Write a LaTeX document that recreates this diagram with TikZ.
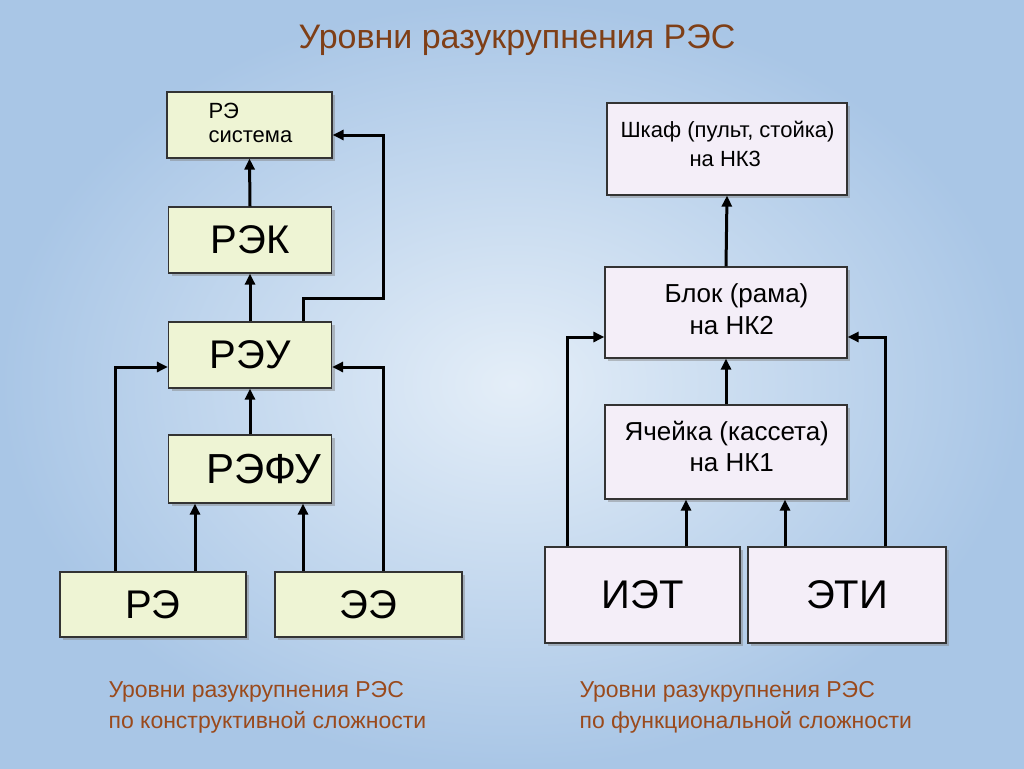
\documentclass[tikz,border=0pt]{standalone}
\usepackage{fontspec}
\setmainfont{Liberation Sans}
\usetikzlibrary{arrows.meta,shadows}
\definecolor{bgin}{HTML}{E4EEF8}
\definecolor{bgout}{HTML}{A9C6E6}
\definecolor{gbox}{HTML}{EEF4D4}
\definecolor{pbox}{HTML}{F4EEF8}
\definecolor{ttl}{HTML}{7F3F17}
\definecolor{cap}{HTML}{9A4A1C}
\tikzset{
  gb/.style={draw=black!80,line width=1.2pt,fill=gbox,drop shadow={opacity=0.45,shadow xshift=3pt,shadow yshift=-3pt}},
  pb/.style={draw=black!80,line width=1.2pt,fill=pbox,drop shadow={opacity=0.45,shadow xshift=3pt,shadow yshift=-3pt}},
  ar/.style={line width=3pt,-{Triangle[length=11pt,width=10pt]}},
  big/.style={font=\fontsize{40}{42}\selectfont},
  sm/.style={font=\fontsize{22}{24}\selectfont,align=left},
  md/.style={font=\fontsize{26}{28}\selectfont,align=left},
}
\begin{document}
\begin{tikzpicture}[x=1pt,y=-1pt]
\shade[inner color=bgin,outer color=bgout] (0,0) rectangle (1024,768);
\useasboundingbox (0,0) rectangle (1024,768);
\node[text=ttl,font=\fontsize{34}{36}\selectfont] (title) at (517,40) {Уровни разукрупнения РЭС};
% left
\node[gb,minimum width=165pt,minimum height=66pt] (sys) at (249.5,125) {};
\node[sm,anchor=north west] (syst) at (205,100) {РЭ\\система};
\node[gb,minimum width=163pt,minimum height=66pt,big] (rek) at (250,240) {РЭК};
\node[gb,minimum width=163pt,minimum height=66pt,big] (reu) at (250,355) {РЭУ};
\node[gb,minimum width=163pt,minimum height=68pt] (refu) at (250,469) {};
\node[font=\fontsize{42}{44}\selectfont] (refut) at (264,469) {РЭФУ};
\node[gb,minimum width=186pt,minimum height=65pt,big] (re) at (153,604.5) {РЭ};
\node[gb,minimum width=187pt,minimum height=65pt,big] (ee) at (368.5,604.5) {ЭЭ};
\draw[ar] (rek.north) -- (sys.south);
\draw[ar] (reu.north) -- (rek.south);
\draw[ar] (refu.north) -- (reu.south);
\draw[ar] (re.north -| 195,0) -- (refu.south -| 195,0);
\draw[ar] (ee.north -| 303,0) -- (refu.south -| 303,0);
\draw[ar] (re.north -| 115,0) -- (115,367) -- (reu.west |- 0,367);
\draw[ar] (ee.north -| 383,0) -- (383,367) -- (reu.east |- 0,367);
\draw[ar] (reu.north -| 303,0) -- (303,298) -- (383,298) -- (383,135) -- (sys.east |- 0,135);
% right
\node[pb,minimum width=240pt,minimum height=92pt] (shk) at (727,149) {};
\node[sm,anchor=north west] at (617,118) {Шкаф (пульт, стойка)};
\node[sm,anchor=north west] at (686,148) {на НК3};
\node[pb,minimum width=242pt,minimum height=91pt] (blk) at (726,312.5) {};
\node[md,anchor=north west] at (661,280) {Блок (рама)};
\node[md,anchor=north west] at (686,313) {на НК2};
\node[pb,minimum width=242pt,minimum height=94pt] (ych) at (726,452) {};
\node[md,anchor=north west] at (621,418) {Ячейка (кассета)};
\node[md,anchor=north west] at (686,450) {на НК1};
\node[pb,minimum width=195pt,minimum height=96pt,big] (iet) at (642.5,595) {ИЭТ};
\node[pb,minimum width=198pt,minimum height=96pt,big] (eti) at (847,595) {ЭТИ};
\draw[ar] (blk.north) -- (shk.south);
\draw[ar] (ych.north) -- (blk.south);
\draw[ar] (iet.north -| 686,0) -- (ych.south -| 686,0);
\draw[ar] (eti.north -| 785,0) -- (ych.south -| 785,0);
\draw[ar] (iet.north -| 567,0) -- (567,337) -- (blk.west |- 0,337);
\draw[ar] (eti.north -| 885,0) -- (885,337) -- (blk.east |- 0,337);
% captions
\node[text=cap,font=\fontsize{23}{31}\selectfont,align=left,anchor=north west] (c1) at (105,678) {Уровни разукрупнения РЭС\\по конструктивной сложности};
\node[text=cap,font=\fontsize{23}{31}\selectfont,align=left,anchor=north west] (c2) at (576,678) {Уровни разукрупнения РЭС\\по функциональной сложности};
\end{tikzpicture}
\end{document}
